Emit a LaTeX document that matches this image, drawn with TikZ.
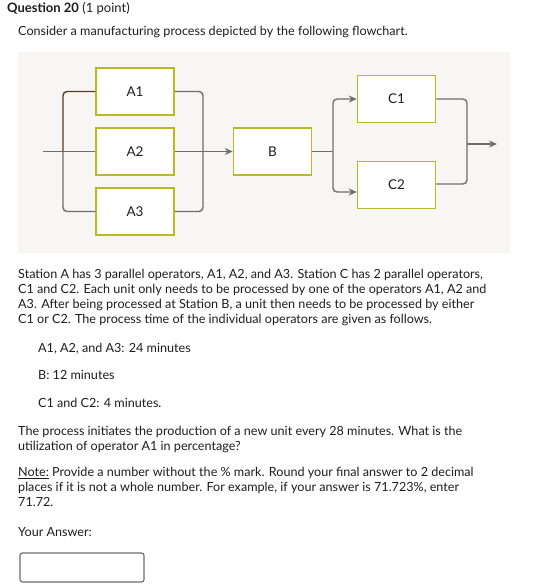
\documentclass[tikz,border=0pt]{standalone}
\usepackage{fontspec}
\setmainfont{Lato}
\usetikzlibrary{arrows.meta}
\definecolor{boxline}{RGB}{185,185,35}
\definecolor{wire}{RGB}{110,110,110}
\definecolor{wirebrown}{RGB}{90,60,25}
\definecolor{panel}{RGB}{247,246,245}
\definecolor{ink}{RGB}{30,30,30}

\begin{document}
\begin{tikzpicture}[%
    x=1pt,y=-1pt,
    station/.style={
      rectangle,
      draw=boxline,
      line width=1.5pt,
      fill=white,
      minimum width=78pt,
      minimum height=47pt,
      font=\fontsize{13.5}{15}\selectfont,
      text=ink
    },
    wire/.style={
      draw=wire,
      line width=1.4pt,
      rounded corners=4pt
    },
    flow/.style={
      wire,
      -{Stealth[length=8pt,width=7pt]}
    },
    para/.style={
      anchor=base west,
      inner sep=0pt,
      align=left,
      text=ink,
      font=\fontsize{12.6}{14.7}\selectfont
    }
  ]
    % page and panel
    \fill[white] (0,0) rectangle (533,586);
    \fill[panel] (18,52) rectangle (510,253);

    % stations
    \node[station] (A1) at (135,91.5) {A1};
    \node[station] (A2) at (135,151.5) {A2};
    \node[station] (A3) at (135,211.5) {A3};
    \node[station] (B) at (272.5,151.5) {B};
    \node[station] (C1) at (396.5,99) {C1};
    \node[station] (C2) at (396.5,185) {C2};

    % junctions
    \coordinate (in) at (43,151.5);
    \coordinate (split) at (63,151.5);
    \coordinate (join) at (203,151.5);
    \coordinate (fork) at (333,151.5);
    \coordinate (merge) at (467,144);
    \coordinate (out) at (497,144);

    % station A
    \draw[wire] (in) -- (A2.west);
    \draw[wire,draw=wirebrown] (A1.west) -| (split);
    \draw[wire] (split) |- (A3.west);
    \draw[wire] (A1.east) -| (join) |- (A3.east);
    \draw[wire] (A2.east) -- (join);
    \draw[flow] (join) -- (B.west);

    % station C
    \draw[wire] (B.east) -- (fork);
    \draw[flow] (fork) |- (C1.west);
    \draw[flow] (fork) |- ([yshift=-7pt]C2.west);
    \draw[wire] (C1.east) -| (merge) |- ([yshift=1pt]C2.east);
    \draw[flow] (merge) -- (out);

    % question text (base = last line)
    \node[para,font=\fontsize{13}{15}\selectfont] (title) at (7,13)
      {\textbf{Question 20} (1 point)};
    \node[para] (intro) at (18,36)
      {Consider a manufacturing process depicted by the following flowchart.};
    \node[para] (story) at (18,323)
      {Station A has 3 parallel operators, A1, A2, and A3. Station C has 2 parallel operators,\\
       C1 and C2. Each unit only needs to be processed by one of the operators A1, A2 and\\
       A3. After being processed at Station B, a unit then needs to be processed by either\\
       C1 or C2. The process time of the individual operators are given as follows.};
    \node[para] (tA) at (38,352) {A1, A2, and A3: 24 minutes};
    \node[para] (tB) at (38,379) {B: 12 minutes};
    \node[para] (tC) at (38,407) {C1 and C2: 4 minutes.};
    \node[para] (ask) at (18,450)
      {The process initiates the production of a new unit every 28 minutes. What is the\\
       utilization of operator A1 in percentage?};
    \node[para] (note) at (18,506)
      {\underline{Note:} Provide a number without the \% mark. Round your final answer to 2 decimal\\
       places if it is not a whole number. For example, if your answer is 71.723\%, enter\\
       71.72.};
    \node[para] (answer) at (18,536) {Your Answer:};
    \node[draw=wire,line width=1.2pt,rounded corners=2.5pt,minimum width=124pt,
      minimum height=29pt,inner sep=0pt] (field) at (82,567.5) {};
  \end{tikzpicture}
\end{document}
